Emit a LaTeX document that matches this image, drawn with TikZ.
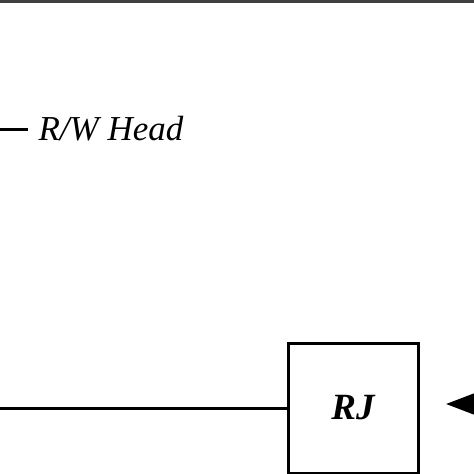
\documentclass[tikz,border=0pt]{standalone}
\usepackage{fontspec}
\setmainfont{Liberation Serif}
\usetikzlibrary{arrows.meta,positioning}

\begin{document}
\begin{tikzpicture}[x=1pt, y=-1pt, line width=3pt,
    bigfont/.style={font=\fontsize{35}{42}\selectfont}]
    \useasboundingbox (0,0) rectangle (474,474);
    \clip (0,0) rectangle (474,474);

    % Top edge
    \fill[black!75] (0,0) rectangle (474,2.5);

    % Head
    \coordinate (headleft) at (0, 129);
    \coordinate (headend) at (28, 129);
    \node[bigfont, anchor=base west, inner sep=0pt] (head) at (37, 140) {\itshape R/W Head};
    \draw (headleft) -- (headend);

    % Block
    \node[draw, minimum width=130pt, minimum height=130pt, font=\fontsize{37}{44}\selectfont] (rj) at (353, 408) {\bfseries\itshape RJ};

    % Lines
    \coordinate (lineleft) at (0, 408);
    \draw (lineleft) -- (lineleft -| rj.west);
    \coordinate (arrowtail) at (500, 404);
    \coordinate (arrowtip) at (447, 404);
    \draw[-{Triangle[length=30pt, width=22pt, sep=0pt]}, shorten >=-1pt] (arrowtail) -- (arrowtip);
\end{tikzpicture}
\end{document}
